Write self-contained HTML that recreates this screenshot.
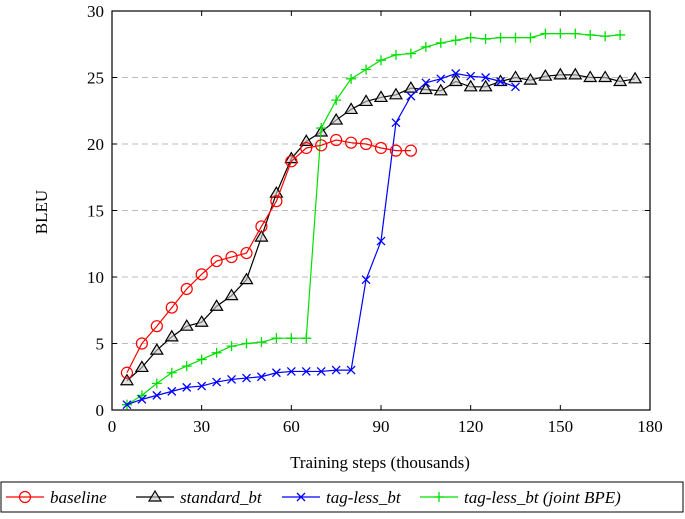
<!DOCTYPE html>
<html><head><meta charset="utf-8"><style>
body{margin:0;background:#fff;}
svg{display:block;font-family:"Liberation Serif",serif;}
</style></head><body>
<svg id="chart" width="685" height="519" xmlns="http://www.w3.org/2000/svg"></svg>
<script>
const xTicks=[0,30,60,90,120,150,180];
const yTicks=[0,5,10,15,20,25,30];
const baselineX=[5,10,15,20,25,30,35,40,45,50,55,60,65,70,75,80,85,90,95,100];
const baselineY=[2.8,5.0,6.3,7.7,9.1,10.2,11.2,11.5,11.8,13.8,15.7,18.7,19.7,19.9,20.3,20.1,20.0,19.7,19.5,19.5];
const standardY=[2.2,3.2,4.5,5.5,6.3,6.6,7.8,8.6,9.8,13.0,16.3,18.9,20.2,20.9,21.8,22.6,23.2,23.5,23.7,24.2,24.1,24.0,24.7,24.3,24.3,24.7,25.0,24.8,25.1,25.2,25.2,25.0,25.0,24.7,24.9];
const taglessY=[0.4,0.8,1.1,1.4,1.7,1.8,2.1,2.3,2.4,2.5,2.8,2.9,2.9,2.9,3.0,3.0,9.8,12.7,21.6,23.6,24.6,24.9,25.3,25.1,25.0,24.7,24.3];
const jointY=[0.4,1.1,2.0,2.8,3.3,3.8,4.3,4.8,5.0,5.1,5.4,5.4,5.4,21.2,23.3,24.9,25.6,26.3,26.7,26.8,27.3,27.6,27.8,28.0,27.9,28.0,28.0,28.0,28.3,28.3,28.3,28.2,28.1,28.2];
const L=112,R=650,T=11,B=410;
const sx=v=>L+(v/180)*(R-L), sy=v=>B-(v/30)*(B-T);
const svg=document.getElementById('chart');const NS='http://www.w3.org/2000/svg';
function mk(t,a,p){const e=document.createElementNS(NS,t);for(const k in a)e.setAttribute(k,a[k]);(p||svg).appendChild(e);return e;}
yTicks.forEach(v=>{if(v>0&&v<30){const g=mk('line',{x1:L,x2:R,y1:sy(v),y2:sy(v),stroke:'#bbb','stroke-dasharray':'6,4'});

}});
mk('rect',{x:L,y:T,width:R-L,height:B-T,fill:'none',stroke:'#000','stroke-width':1.2,});
xTicks.forEach(v=>{mk('line',{x1:sx(v),x2:sx(v),y1:B,y2:B-5,stroke:'#000'});mk('line',{x1:sx(v),x2:sx(v),y1:T,y2:T+5,stroke:'#000'});
const t=mk('text',{x:sx(v),y:B+22,'text-anchor':'middle','font-size':17});t.textContent=v;

});
yTicks.forEach(v=>{mk('line',{x1:L,x2:L+5,y1:sy(v),y2:sy(v),stroke:'#000'});mk('line',{x1:R,x2:R-5,y1:sy(v),y2:sy(v),stroke:'#000'});
const t=mk('text',{x:L-8,y:sy(v)+6,'text-anchor':'end','font-size':17});t.textContent=v;

});
let t=mk('text',{x:380,y:468,'text-anchor':'middle','font-size':17,});t.textContent='Training steps (thousands)';
t=mk('text',{x:0,y:0,'text-anchor':'middle','font-size':17,transform:'translate(47,212) rotate(-90)',});t.textContent='BLEU';
function marker(g,type,x,y,c){
 if(type==='o')mk('circle',{cx:x,cy:y,r:5.5,fill:'none',stroke:c,'stroke-width':1.2},g);
 else if(type==='t')mk('polygon',{points:`${x},${y-6} ${x-6},${y+4} ${x+6},${y+4}`,fill:'#ccc','fill-opacity':0.6,stroke:c,'stroke-width':1.2},g);
 else if(type==='x'){mk('path',{d:`M${x-4},${y-4}L${x+4},${y+4}M${x-4},${y+4}L${x+4},${y-4}`,stroke:c,'stroke-width':1.3},g);}
 else mk('path',{d:`M${x-5},${y}L${x+5},${y}M${x},${y-5}L${x},${y+5}`,stroke:c,'stroke-width':1.3},g);
}
function series(name,ys,c,type){
 const g=mk('g',{});
 const xs=ys.map((_,i)=>5+5*i);
 mk('polyline',{points:xs.map((x,i)=>sx(x)+','+sy(ys[i])).join(' '),fill:'none',stroke:c,'stroke-width':1.2},g);
 xs.forEach((x,i)=>marker(g,type,sx(x),sy(ys[i]),c));
}
series('series-standard-bt',standardY,'#000','t');
series('series-tagless-joint-bpe',jointY,'#00e000','p');
series('series-tagless-bt',taglessY,'#0000ff','x');
series('series-baseline',baselineY,'#ff0000','o');
const lg=mk('g',{});
mk('rect',{x:1,y:482,width:682,height:30,fill:'#fff',stroke:'#000'},lg);
const ents=[['baseline','#ff0000','o',6],['standard_bt','#000','t',136],['tag-less_bt','#0000ff','x',282],['tag-less_bt (joint BPE)','#00e000','p',420]];
ents.forEach(e=>{const g=mk('g',{},lg);
 mk('line',{x1:e[3],x2:e[3]+38,y1:497,y2:497,stroke:e[1],'stroke-width':1.2},g);marker(g,e[2],e[3]+19,497,e[1]);
 const tt=mk('text',{x:e[3]+44,y:503,'font-size':17,'font-style':'italic'},g);tt.textContent=e[0];});
</script>
</body></html>
